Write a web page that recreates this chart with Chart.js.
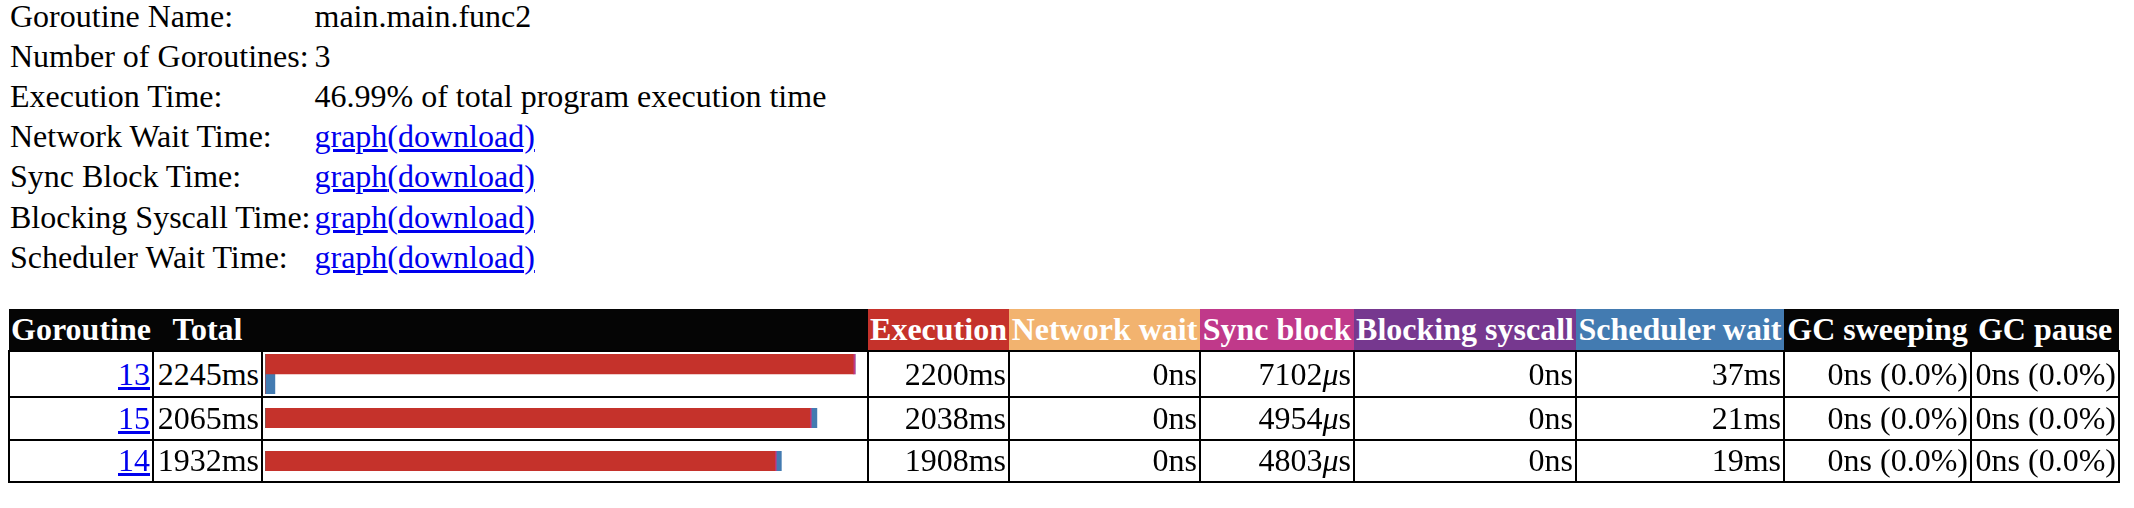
<!DOCTYPE html>
<html>
<head>
<meta charset="utf-8">
<title>Goroutine main.main.func2</title>
<script src="https://cdn.jsdelivr.net/npm/chart.js@4.4.1/dist/chart.umd.min.js"></script>
<style>
html, body { margin: 0; padding: 0; background: #fff; }
body { margin: 0 8px; font-family: "Liberation Serif", "Times New Roman", serif; font-size: 32px; color: #000; }
table { border-collapse: collapse; }
td, th { padding: 2px; white-space: nowrap; }
a { color: #0000ee; text-decoration: underline; }
table.summary { margin-top: -4px; }
table.summary td { text-align: left; padding: 1.6px 2px; }
table.details { margin-top: 32px; table-layout: fixed; }
th { background-color: #050505; color: #fff; font-weight: bold; text-align: center; }
th.exec-time { background-color: #c5322b; }
th.io-time { background-color: #f2b36f; }
th.block-time { background-color: #c0398a; }
th.syscall-time { background-color: #76388f; }
th.sched-time { background-color: #437bb1; }
.details td { text-align: right; border: 2px solid #000; padding: 1.6px 2px; }
.details td.bar { text-align: left; padding: 2px; }
.details td.bar canvas { display: block; }
</style>
</head>
<body>
<table class="summary" id="summary"></table>
<table class="details" id="details"></table>
<script>
// ---- data ----
const goroutineName = "main.main.func2";
const numGoroutines = 3;
const execTimePercent = "46.99%";
const goroutineIds = [13, 15, 14];
const totalMs   = [2245, 2065, 1932];
const execMs    = [2200, 2038, 1908];
const ioMs      = [0, 0, 0];
const blockMs   = [7.102, 4.954, 4.803];
const syscallMs = [0, 0, 0];
const schedMs   = [37, 21, 19];
const sweepMs   = [0, 0, 0];
const pauseMs   = [0, 0, 0];
const headerLabels = ["Goroutine", "Total", "", "Execution", "Network wait", "Sync block", "Blocking syscall", "Scheduler wait", "GC sweeping", "GC pause"];
const headerClasses = ["", "total-time", "", "exec-time", "io-time", "block-time", "syscall-time", "sched-time", "sweep-time", "pause-time"];
const summaryLabels = ["Network Wait Time:", "Sync Block Time:", "Blocking Syscall Time:", "Scheduler Wait Time:"];
const segColors = { unknown: "#636363", exec: "#c5322b", io: "#f2b36f", block: "#c0398a", syscall: "#76388f", sched: "#437bb1" };
const colWidths = [144, 109, 606, 141, 191, 154, 222, 208, 187, 148];

function pretty(ms) {
  if (ms === 0) return "0ns";
  if (ms < 10) return String(Math.round(ms * 1000)) + "<i>μ</i>s";
  return String(Math.round(ms)) + "ms";
}
function pct(part, total) { return (part / total * 100).toFixed(1) + "%"; }

// summary table
const sum = document.getElementById("summary");
let sh = "";
sh += "<tr><td>Goroutine Name:</td><td>" + goroutineName + "</td></tr>";
sh += "<tr><td>Number of Goroutines:</td><td>" + numGoroutines + "</td></tr>";
sh += "<tr><td>Execution Time:</td><td>" + execTimePercent + " of total program execution time</td></tr>";
summaryLabels.forEach(l => { sh += "<tr><td>" + l + "</td><td><a href=\"#\">graph</a><a href=\"#\">(download)</a></td></tr>"; });
sum.innerHTML = sh;

// details table
const det = document.getElementById("details");
let dh = "<colgroup>" + colWidths.map(w => "<col style=\"width:" + w + "px\">").join("") + "</colgroup>";
dh += "<tr>" + headerLabels.map((h, i) => "<th class=\"" + headerClasses[i] + "\">" + h + "</th>").join("") + "</tr>";
goroutineIds.forEach((id, r) => {
  dh += "<tr>";
  dh += "<td><a href=\"#\">" + id + "</a></td>";
  dh += "<td>" + pretty(totalMs[r]) + "</td>";
  dh += "<td class=\"bar\"><canvas id=\"bar" + r + "\"></canvas></td>";
  dh += "<td>" + pretty(execMs[r]) + "</td>";
  dh += "<td>" + pretty(ioMs[r]) + "</td>";
  dh += "<td>" + pretty(blockMs[r]) + "</td>";
  dh += "<td>" + pretty(syscallMs[r]) + "</td>";
  dh += "<td>" + pretty(schedMs[r]) + "</td>";
  dh += "<td>" + pretty(sweepMs[r]) + " (" + pct(sweepMs[r], totalMs[r]) + ")</td>";
  dh += "<td>" + pretty(pauseMs[r]) + " (" + pct(pauseMs[r], totalMs[r]) + ")</td>";
  dh += "</tr>";
});
det.innerHTML = dh;
det.style.width = colWidths.reduce((a, b) => a + b, 0) + "px";

// stacked bar graphs (floating spans that wrap when the container is full)
const maxTotal = Math.max(...totalMs);
const BAR_W = 600, LINE_H = 20;
goroutineIds.forEach((id, r) => {
  const unknown = Math.max(0, totalMs[r] - execMs[r] - ioMs[r] - blockMs[r] - syscallMs[r] - schedMs[r]);
  const segs = [
    ["unknown", unknown], ["exec", execMs[r]], ["io", ioMs[r]],
    ["block", blockMs[r]], ["syscall", syscallMs[r]], ["sched", schedMs[r]]
  ].filter(s => s[1] > 0);
  // assign each segment to a line as floats would (percent widths rounded to 2 decimals)
  let line = 0, used = 0;
  const lineOf = segs.map(s => {
    const w = Math.round(s[1] / maxTotal * 10000) / 100;
    if (used + w >= 99.995 && used > 0) { line++; used = 0; }
    used += w;
    return line;
  });
  const nLines = line + 1;
  const labels = Array.from({ length: nLines }, (_, i) => "line" + i);
  const datasets = segs.map((s, i) => ({
    label: s[0],
    data: labels.map((_, li) => (li === lineOf[i] ? s[1] : 0)),
    backgroundColor: segColors[s[0]],
    borderWidth: 0,
    barPercentage: 1,
    categoryPercentage: 1
  }));
  const cv = document.getElementById("bar" + r);
  cv.width = BAR_W; cv.height = LINE_H * nLines;
  cv.style.width = BAR_W + "px"; cv.style.height = (LINE_H * nLines) + "px";
  new Chart(cv, {
    type: "bar",
    data: { labels, datasets },
    options: {
      indexAxis: "y",
      responsive: false,
      animation: false,
      devicePixelRatio: 1,
      layout: { padding: 0 },
      plugins: { legend: { display: false }, tooltip: { enabled: false } },
      scales: {
        x: { stacked: true, min: 0, max: maxTotal, display: false },
        y: { stacked: true, display: false }
      }
    }
  });
});
</script>
</body>
</html>
